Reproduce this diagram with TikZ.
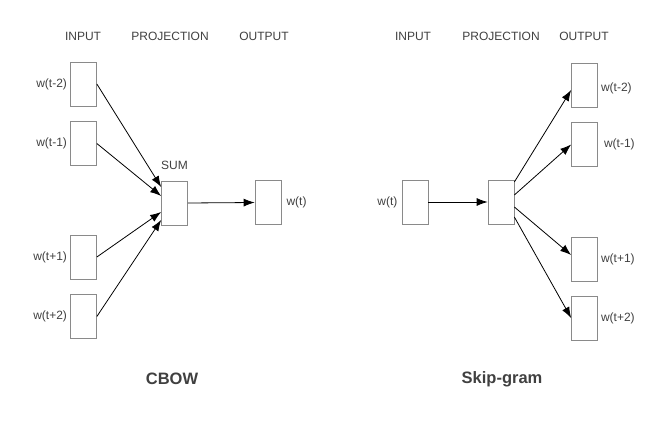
\documentclass[tikz,border=0pt]{standalone}
\usepackage{fontspec}
\setmainfont{Liberation Sans}
\usepackage{tikz}
\usetikzlibrary{arrows.meta,positioning}
\definecolor{txtgray}{HTML}{404040}
\definecolor{boxgray}{HTML}{8A8A8A}
\tikzstyle{arrow} = [line width=0.8pt,-{Latex[length=11pt,width=8pt]}]
\tikzstyle{vec} = [draw=boxgray,line width=0.7pt,minimum width=26pt,minimum height=44pt,inner sep=0pt]
\tikzstyle{lbl} = [text=txtgray,font=\fontsize{12}{14}\selectfont,inner sep=1pt]
\tikzstyle{title} = [text=txtgray,font=\fontsize{16.5}{18}\selectfont\bfseries]

\begin{document}
\begin{tikzpicture}[x=1pt,y=-1pt]
	\useasboundingbox (0,0) rectangle (663,425);
	% CBOW
	\node[lbl] (hin) at (83,36) {INPUT};
	\node[lbl] (hproj) at (170,36) {PROJECTION};
	\node[lbl] (hout) at (264,36) {OUTPUT};
	\node[vec] (c1) at (83.5,84) {};
	\node[vec] (c2) at (83.5,143.5) {};
	\node[vec] (c3) at (83.5,257) {};
	\node[vec] (c4) at (83.5,316.5) {};
	\node[vec] (sum) at (174.5,203) {};
	\node[vec] (cout) at (268,202.5) {};
	\node[lbl,left=2pt of c1] {w(t-2)};
	\node[lbl,left=2pt of c2] {w(t-1)};
	\node[lbl,left=2pt of c3] {w(t+1)};
	\node[lbl,left=2pt of c4] {w(t+2)};
	\node[lbl,above=10pt of sum] {SUM};
	\node[lbl,right=4pt of cout] {w(t)};
	\draw[arrow] (c1.east) -- ([yshift=16pt]sum.west);
	\draw[arrow] (c2.east) -- ([yshift=7pt]sum.west);
	\draw[arrow] (c3.east) -- ([yshift=-9pt]sum.west);
	\draw[arrow] (c4.east) -- ([yshift=-17pt]sum.west);
	\draw[arrow] (sum.east) -- (cout.west);
	\node[title] (cbow) at (172,379) {CBOW};
	% Skip-gram
	\node[lbl] (sin) at (413,36) {INPUT};
	\node[lbl] (sproj) at (501,36) {PROJECTION};
	\node[lbl] (sout) at (584,36) {OUTPUT};
	\node[vec] (win) at (415,202) {};
	\node[vec] (proj) at (501,202) {};
	\node[vec] (s1) at (584.5,85) {};
	\node[vec] (s2) at (584.5,144.5) {};
	\node[vec] (s3) at (584.5,259) {};
	\node[vec] (s4) at (584.5,318) {};
	\node[lbl,left=3pt of win] {w(t)};
	\node[lbl,right=2pt of s1,yshift=-3pt] {w(t-2)};
	\node[lbl,right=5pt of s2] {w(t-1)};
	\node[lbl,right=2pt of s3] {w(t+1)};
	\node[lbl,right=2pt of s4] {w(t+2)};
	\draw[arrow] (win.east) -- (proj.west);
	\draw[arrow] ([yshift=20pt]proj.east) -- ([yshift=-5pt]s1.west);
	\draw[arrow] ([yshift=7pt]proj.east) -- (s2.west);
	\draw[arrow] ([yshift=-5pt]proj.east) -- ([yshift=4pt]s3.west);
	\draw[arrow] ([yshift=-15pt]proj.east) -- (s4.west);
	\node[title] (skip) at (502,379) {Skip-gram};
\end{tikzpicture}
\end{document}
